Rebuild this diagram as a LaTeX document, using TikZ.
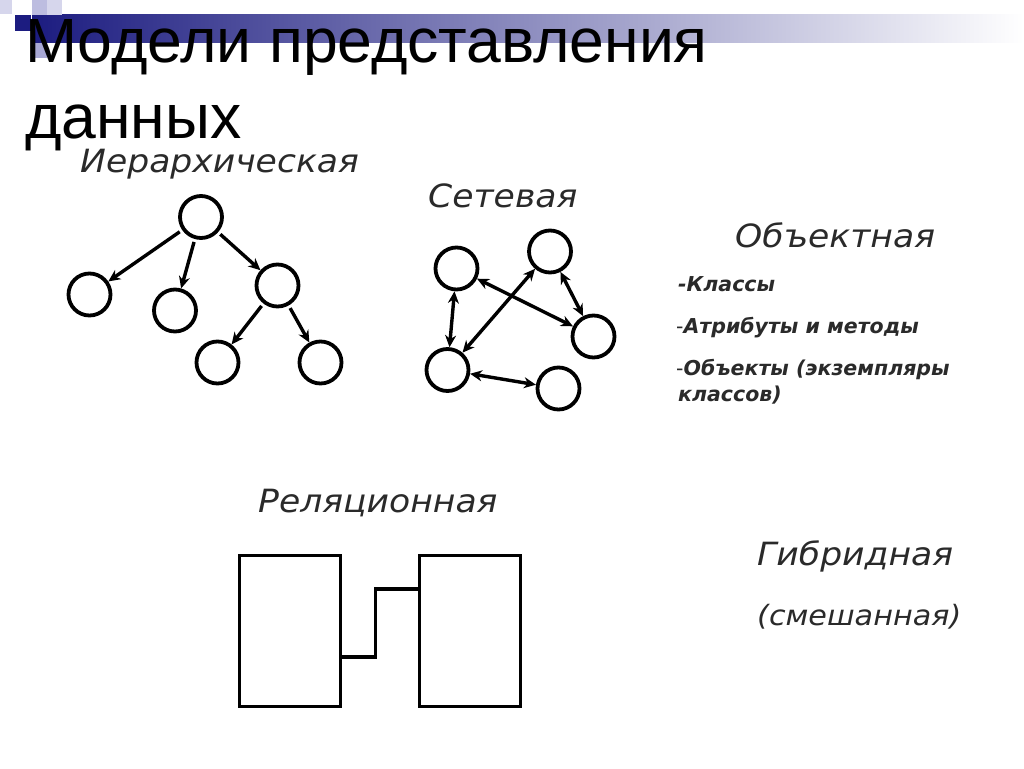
\documentclass[tikz,border=0pt]{standalone}
\usepackage{fontspec}
\setmainfont{Liberation Sans}
\newfontfamily\djfont{DejaVu Sans}
\usetikzlibrary{arrows.meta}
\definecolor{navy}{HTML}{1C1C80}
\definecolor{lav1}{HTML}{D6D6EC}
\definecolor{lav2}{HTML}{BDBDE0}
\definecolor{lav3}{HTML}{A8A8D4}
\definecolor{txtgray}{HTML}{2A2A2A}
\begin{document}
\begin{tikzpicture}[x=1pt,y=-1pt,
  circ/.style={circle,draw,line width=3.8pt,minimum size=42pt,inner sep=0pt},
  arr/.style={line width=3.4pt,-{Stealth[length=12pt,width=11pt]},shorten <=3pt},
  darr/.style={line width=3.4pt,{Stealth[length=12pt,width=11pt]}-{Stealth[length=12pt,width=11pt]}},
  lbl/.style={anchor=base west,inner sep=0pt,xscale=1.08,font=\djfont\itshape\fontsize{32}{38}\selectfont,text=txtgray},
  lblsmall/.style={anchor=base west,inner sep=0pt,xscale=1.08,font=\djfont\itshape\fontsize{28}{34}\selectfont,text=txtgray},
  bul/.style={anchor=base west,inner sep=0pt,font=\djfont\bfseries\itshape\fontsize{20.5}{24}\selectfont,text=txtgray},
  title/.style={anchor=base west,inner sep=0pt,font=\fontsize{62.5}{75}\selectfont,text=black},
  relbox/.style={draw,line width=3.8pt,minimum width=101pt,minimum height=151pt,inner sep=0pt}
]
\useasboundingbox[fill=white] (0,0) rectangle (1024,768);
% header decoration
\shade[left color=navy,right color=white] (32,15) rectangle (1024,43);
\fill[lav1] (0,0) rectangle (12,14);
\fill[lav2] (32,0) rectangle (47,15);
\fill[lav1] (47,0) rectangle (62,15);
\fill[navy] (15,15) rectangle (31,31);
\fill[lav3] (32,43) rectangle (47,58);
% title
\node[title] (t1) at (25,63) {Модели представления};
\node[title] (t2) at (25,138) {данных};
% labels
\node[lbl] (lh) at (80,172) {Иерархическая};
\node[lbl] (ls) at (428,207) {Сетевая};
\node[lbl] (lo) at (735,247) {Объектная};
\node[lbl] (lr) at (258,512) {Реляционная};
\node[lbl] (lg) at (757,565) {Гибридная};
\node[lblsmall] (lm) at (757,625) {(смешанная)};
% bullets
\node[bul] (b1) at (678,291) {-Классы};
\node[bul] (b2) at (676,333) {{\normalfont\djfont\fontsize{20.5}{24}\selectfont-}Атрибуты и методы};
\node[bul] (b3) at (676,375) {{\normalfont\djfont\fontsize{20.5}{24}\selectfont-}Объекты (экземпляры};
\node[bul] (b4) at (678,401) {классов)};
% hierarchical tree
\node[circ] (h0) at (201,217) {};
\node[circ] (h1) at (89.5,294.5) {};
\node[circ] (h2) at (175,310.5) {};
\node[circ] (h3) at (277.5,285.5) {};
\node[circ] (h4) at (217.5,362.5) {};
\node[circ] (h5) at (320.5,362.5) {};
\draw[arr] (h0) -- (h1);
\draw[arr] (h0) -- (h2);
\draw[arr] (h0) -- (h3);
\draw[arr] (h3) -- (h4);
\draw[arr] (h3) -- (h5);
% network
\node[circ] (nA) at (456.5,268.5) {};
\node[circ] (nB) at (550,251.5) {};
\node[circ] (nC) at (593.5,336.5) {};
\node[circ] (nD) at (447.5,370) {};
\node[circ] (nE) at (558.5,388.5) {};
\draw[darr] (nA) -- (nD);
\draw[darr] (nA) -- (nC);
\draw[darr] (nB) -- (nC);
\draw[darr] (nB) -- (nD);
\draw[darr] (nD) -- (nE);
% relational
\node[relbox] (r1) at (290,631) {};
\node[relbox] (r2) at (470,631) {};
\draw[line width=3.8pt] ([yshift=-26pt]r1.east) -- ++(33,0) |- ([yshift=42pt]r2.west);
\end{tikzpicture}
\end{document}
